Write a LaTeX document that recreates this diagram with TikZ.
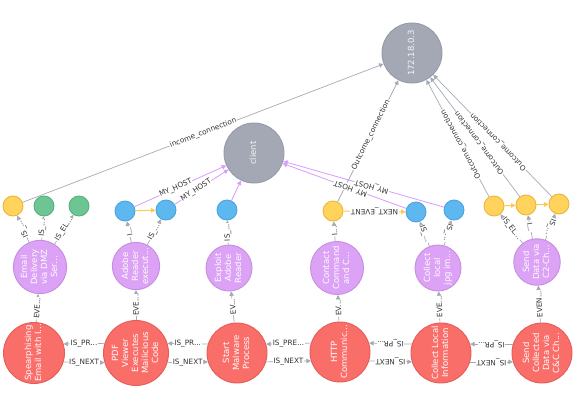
\documentclass[tikz,border=0pt]{standalone}
\usepackage{fontspec}
\setmainfont{DejaVu Sans}
\usepackage{graphicx}
\usetikzlibrary{arrows.meta}
\definecolor{redf}{HTML}{FA6E69}
\definecolor{redb}{HTML}{E45C57}
\definecolor{purf}{HTML}{DBA2F5}
\definecolor{purb}{HTML}{C68DE0}
\definecolor{bluf}{HTML}{5DB8EF}
\definecolor{blub}{HTML}{4EA4DA}
\definecolor{yelf}{HTML}{FFD35C}
\definecolor{yelb}{HTML}{EEB63A}
\definecolor{grnf}{HTML}{6CC593}
\definecolor{grnb}{HTML}{58B07F}
\definecolor{gryf}{HTML}{A3A8B4}
\definecolor{gryb}{HTML}{959BA7}
\definecolor{edgegray}{HTML}{A5ABB6}
\definecolor{pinkc}{HTML}{D99BFF}
\definecolor{yelc}{HTML}{FFC94D}
\definecolor{labelc}{HTML}{333333}
\newcommand{\vtxt}[1]{\rotatebox{90}{\fontsize{8.5}{10}\selectfont\begin{tabular}{@{}c@{}}#1\end{tabular}}}
\tikzset{
  vert/.style={circle, inner sep=0pt, line width=0.9pt, text=white},
  bigv/.style={vert, minimum size=60pt},
  midv/.style={vert, minimum size=46pt},
  smv/.style={vert, minimum size=20pt},
  redv/.style={bigv, fill=redf, draw=redb},
  grayv/.style={bigv, fill=gryf, draw=gryb, text=white!88!gryf},
  purv/.style={midv, fill=purf, draw=purb},
  bluv/.style={smv, fill=bluf, draw=blub},
  yelv/.style={smv, fill=yelf, draw=yelb},
  grnv/.style={smv, fill=grnf, draw=grnb},
  tipx/.style={-{Triangle[length=4.5pt,width=4.5pt]}},
  gedge/.style={draw=edgegray, line width=0.7pt, tipx},
  pedge/.style={draw=pinkc, line width=0.8pt, tipx},
  yedge/.style={draw=yelc, line width=1pt, tipx},
  lbl/.style={fill=white, inner sep=0.6pt, font=\fontsize{7.3}{8}\selectfont, text=labelc},
  lblup/.style={lbl, sloped, allow upside down},
}
\begin{document}
\begin{tikzpicture}[x=1pt,y=-1pt]
\useasboundingbox[fill=white] (0,0) rectangle (575,407);
% gray hosts
\node[grayv] (ip) at (412,53) {\vtxt{172.18.0.3}};
\node[grayv] (client) at (254,153) {\vtxt{client}};
% small nodes
\node[yelv] (y1) at (13,206) {};
\node[grnv] (g1) at (44,206) {};
\node[grnv] (g2) at (79,206) {};
\node[bluv] (b1) at (125,211) {};
\node[bluv] (b2) at (166,210) {};
\node[bluv] (b3) at (227,210) {};
\node[yelv] (y5) at (333,211) {};
\node[bluv] (b4) at (416,212) {};
\node[bluv] (b5) at (454,210) {};
\node[yelv] (y2) at (494,206) {};
\node[yelv] (y3) at (526,205) {};
\node[yelv] (y4) at (559,204) {};
% purple
\node[purv] (p1) at (40,267) {\vtxt{Email\\Delivery\\via DMZ\\Ser...}};
\node[purv] (p2) at (136,266) {\vtxt{Adobe\\Reader\\execut...}};
\node[purv] (p3) at (229,268) {\vtxt{Exploit\\Adobe\\Reader}};
\node[purv] (p4) at (337,268) {\vtxt{Contact\\Command\\and C...}};
\node[purv] (p5) at (438,268) {\vtxt{Collect\\local\\jpg im...}};
\node[purv] (p6) at (537,262) {\vtxt{Send\\Data via\\C2-Ch...}};
% red
\node[redv] (r1) at (34,353) {\vtxt{Spearphising\\Email with I...}};
\node[redv] (r2) at (136,353) {\vtxt{PDF\\Viewer\\Executes\\Mailicious\\Code}};
\node[redv] (r3) at (237,353) {\vtxt{Start\\Malware\\Process}};
\node[redv] (r4) at (340,352) {\vtxt{HTTP\\Communic...}};
\node[redv] (r5) at (441,353) {\vtxt{Collect Local\\Information}};
\node[redv] (r6) at (542,353) {\vtxt{Send\\Collected\\Data via\\C\&C Ch...}};
% red chain
\draw[gedge] (r2.163) -- node[lbl]{IS\_PR...} (r1.17);
\draw[gedge] (r1.-17) -- node[lbl]{IS\_NEXT} (r2.-163);
\draw[gedge] (r3.163) -- node[lbl]{IS\_PR...} (r2.17);
\draw[gedge] (r2.-17) -- node[lbl]{IS\_NEXT} (r3.-163);
\draw[gedge] (r4.163) -- node[lbl]{IS\_PRE...} (r3.17);
\draw[gedge] (r3.-17) -- node[lbl]{IS\_NEXT} (r4.-163);
\draw[gedge] (r5.163) -- node[lbl,rotate=180]{IS\_PR...} (r4.17);
\draw[gedge] (r4.-17) -- node[lbl,rotate=180]{IS\_NEXT} (r5.-163);
\draw[gedge] (r6.163) -- node[lbl,rotate=180]{IS\_PR...} (r5.17);
\draw[gedge] (r5.-17) -- node[lbl,rotate=180]{IS\_NEXT} (r6.-163);
% red to purple
\draw[gedge] (r1) -- node[lblup]{EVE...} (p1);
\draw[gedge] (r2) -- node[lblup]{EVE...} (p2);
\draw[gedge] (r3) -- node[lblup]{EV...} (p3);
\draw[gedge] (r4) -- node[lblup]{EV...} (p4);
\draw[gedge] (r5) -- node[lblup]{EVE...} (p5);
\draw[gedge] (r6) -- node[lblup]{EVEN...} (p6);
% purple to small
\draw[gedge] (p1) -- node[lblup]{IS\_...} (y1);
\draw[gedge] (p1) -- node[lblup]{IS\_...} (g1);
\draw[gedge] (p1) -- node[lblup]{IS\_EL...} (g2);
\draw[gedge] (p2) -- node[lblup]{I...} (b1);
\draw[gedge] (p2) -- node[lblup]{IS\_...} (b2);
\draw[gedge] (p3) -- node[lblup]{IS\_...} (b3);
\draw[gedge] (p4) -- node[lblup]{I...} (y5);
\draw[gedge] (p5) -- node[lblup,rotate=180]{IS\_...} (b4);
\draw[gedge] (p5) -- node[lblup,rotate=180]{IS\_...} (b5);
\draw[gedge] (p6) -- node[lblup,rotate=180]{IS\_EL...} (y2);
\draw[gedge] (p6) -- node[lblup,rotate=180]{I...} (y3);
\draw[gedge] (p6) -- node[lblup,rotate=180]{IS\_...} (y4);
% small to hosts
\draw[gedge] (y1) -- node[lblup]{income\_connection} (ip);
\draw[gedge] (y5) -- node[lblup,pos=0.55]{Outcome\_connection} (ip);
\draw[gedge] (y2) -- node[lblup,pos=0.45]{Outcome\_connection} (ip);
\draw[gedge] (y3) -- node[lblup,pos=0.45]{Outcome\_connection} (ip);
\draw[gedge] (y4) -- node[lblup,pos=0.45]{Outcome\_connection} (ip);
\draw[pedge] (b1) -- node[lblup,pos=0.45]{MY\_HOST} (client);
\draw[pedge] (b2) -- node[lblup,pos=0.4]{MY\_HOST} (client);
\draw[pedge] (b3) -- (client);
\draw[pedge] (b4) -- node[lblup,pos=0.45]{MY\_HOST} (client);
\draw[pedge] (b5) -- node[lblup,pos=0.45]{MY\_HOST} (client);
% next events
\draw[yedge] (b1) -- (b2);
\draw[yedge] (y5) -- node[lbl,rotate=180]{NEXT\_EVENT} (b4);
\draw[yedge] (y2) -- (y3);
\draw[yedge] (y3) -- (y4);
\end{tikzpicture}
\end{document}
